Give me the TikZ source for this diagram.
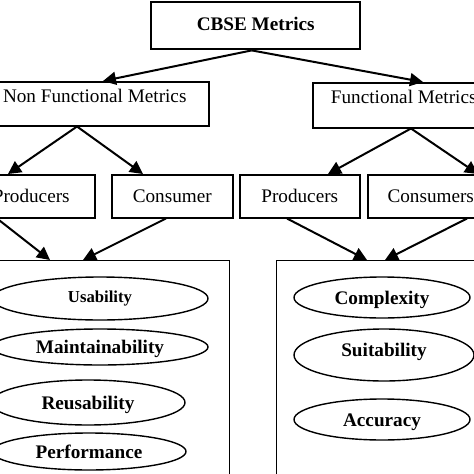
\documentclass[tikz,border=0pt]{standalone}
\usepackage{fontspec}
\setmainfont{Liberation Serif}
\usetikzlibrary{arrows.meta,calc,shapes.geometric}
\begin{document}
\begin{tikzpicture}[x=1pt,y=-1pt,
 box/.style={draw,line width=1.5pt,inner sep=0pt,anchor=north west,font=\fontsize{19.2}{23}\selectfont},
 ell/.style={draw,ellipse,line width=1.4pt,inner sep=0pt,font=\bfseries\fontsize{19.2}{23}\selectfont},
 arr/.style={line width=2pt,-{Triangle[length=13pt,width=13pt]}},
 cont/.style={draw,line width=1.2pt,anchor=north west,inner sep=0pt}]
\useasboundingbox (0,0) rectangle (474,474);
\node[box,line width=2.4pt,minimum width=209pt,minimum height=47pt,text height=13pt,text depth=3pt,font=\bfseries\fontsize{19.2}{23}\selectfont] (cbse) at (150,1) {CBSE Metrics};
\node[box,minimum width=228pt,minimum height=44pt,text height=10pt,text depth=13pt] (nf) at (-20,81) {Non Functional Metrics};
\node[box,minimum width=182pt,minimum height=45pt,text height=10pt,text depth=14pt] (f) at (312,82) {Functional Metrics};
\node[box,minimum width=127pt,minimum height=43pt,text height=13pt,text depth=0pt] (prod1) at (-33,174) {Producers};
\node[box,minimum width=121pt,minimum height=43pt,text height=13pt,text depth=0pt] (cons1) at (111,174) {Consumer};
\node[box,minimum width=120pt,minimum height=43pt,text height=13pt,text depth=0pt] (prod2) at (239,174) {Producers};
\node[box,minimum width=126pt,minimum height=43pt,text height=13pt,text depth=0pt] (cons2) at (367,174) {Consumers};
\node[cont,minimum width=249pt,minimum height=250pt] (lc) at (-20,260) {};
\node[cont,minimum width=250pt,minimum height=250pt] (rc) at (276,260) {};
\node[ell,minimum width=216pt,minimum height=43pt,text height=11pt,text depth=3pt,font=\bfseries\fontsize{16.7}{20}\selectfont] (use) at (100,298.5) {Usability};
\node[ell,minimum width=216pt,minimum height=36pt,text height=13pt,text depth=0pt] (main) at (100,347) {Maintainability};
\node[ell,minimum width=194pt,minimum height=45pt,text height=13pt,text depth=0pt] (reus) at (88,402.5) {Reusability};
\node[ell,minimum width=194pt,minimum height=37pt,text height=13pt,text depth=0pt] (perf) at (89,451.5) {Performance};
\node[ell,minimum width=176pt,minimum height=41pt,text height=13pt,text depth=0pt] (comp) at (382,297.5) {Complexity};
\node[ell,minimum width=180pt,minimum height=52pt,text height=13pt,text depth=10pt] (suit) at (384,355) {Suitability};
\node[ell,minimum width=176pt,minimum height=41pt,text height=13pt,text depth=0pt] (acc) at (382,419.5) {Accuracy};
\draw[arr] ($(cbse.south)+(-4,0)$) -- ($(nf.north west)+(123,0)$);
\draw[arr] ($(cbse.south)+(-4,0)$) -- ($(f.north west)+(111,0)$);
\draw[arr] ($(nf.south west)+(97,0)$) -- ($(prod1.north west)+(41,0)$);
\draw[arr] ($(nf.south west)+(97,0)$) -- ($(cons1.north west)+(32,0)$);
\draw[arr] ($(f.south west)+(99,0)$) -- ($(prod2.north west)+(89,0)$);
\draw[arr] ($(f.south west)+(99,0)$) -- ($(cons2.north west)+(111,0)$);
\draw[arr] ($(prod1.south west)+(30,0)$) -- ($(lc.north west)+(70,0)$);
\draw[arr] ($(cons1.south west)+(55,0)$) -- ($(lc.north west)+(103,0)$);
\draw[arr] ($(prod2.south west)+(48,0)$) -- ($(rc.north west)+(91,0)$);
\draw[arr] ($(cons2.south west)+(100,0)$) -- ($(rc.north west)+(109,0)$);
\end{tikzpicture}
\end{document}
